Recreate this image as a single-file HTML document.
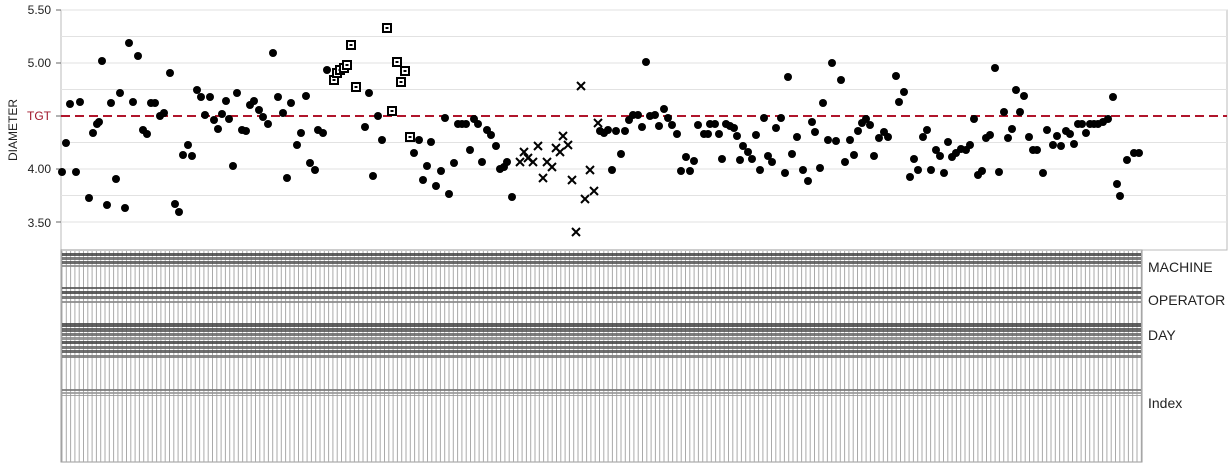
<!DOCTYPE html>
<html><head><meta charset="utf-8"><style>
html,body{margin:0;padding:0;background:#fff;}
svg{display:block;font-family:"Liberation Sans",sans-serif;}
</style></head><body>
<svg id="s" width="1228" height="466" xmlns="http://www.w3.org/2000/svg">
<rect x="61" y="10" width="1166" height="240" fill="#fff" stroke="#bbb"/>
<rect x="61" y="250" width="1081" height="212" fill="#fff" stroke="#999"/>
<g id="grid" stroke="#e2e2e2"></g>
<g font-size="12" fill="#222" text-anchor="end">
<text x="51" y="14">5.50</text><text x="51" y="67">5.00</text>
<text x="51" y="173">4.00</text><text x="51" y="227">3.50</text>
<text x="51" y="120" fill="#a0162a">TGT</text></g>
<g stroke="#666"><line x1="56" y1="10" x2="61" y2="10"/><line x1="56" y1="63" x2="61" y2="63"/><line x1="56" y1="116" x2="61" y2="116"/><line x1="56" y1="169" x2="61" y2="169"/><line x1="56" y1="222" x2="61" y2="222"/></g>
<text transform="translate(17,130) rotate(-90)" font-size="12" fill="#222" text-anchor="middle">DIAMETER</text>
<line x1="61" y1="116" x2="1227" y2="116" stroke="#b0152b" stroke-width="2" stroke-dasharray="9,5"/>
<g id="vl" stroke="#aaa" stroke-width="1"></g>
<g id="bands"></g>
<g id="pts"></g>
<g font-size="14" fill="#222">
<text x="1148" y="272">MACHINE</text><text x="1148" y="305">OPERATOR</text>
<text x="1148" y="340">DAY</text><text x="1148" y="408">Index</text></g>
</svg>
<script>
var ns="http://www.w3.org/2000/svg";
function el(t,a,p){var e=document.createElementNS(ns,t);for(var k in a)e.setAttribute(k,a[k]);document.getElementById(p).appendChild(e);return e;}
[36.5,89.5,142.5,195.5,63,169,222,10].forEach(function(y){el('line',{x1:61,x2:1227,y1:y,y2:y},'grid');});
for(var x=62;x<1142;x+=4.3){el('line',{x1:x.toFixed(1),x2:x.toFixed(1),y1:251,y2:462},'vl');}
var B=[[253,3,'#444'],[257,3,'#666'],[261,3,'#555'],[265,2,'#888'],
[287,2,'#555'],[291,3,'#444'],[296,3,'#666'],[301,2,'#888'],
[323,4,'#444'],[328,4,'#555'],[333,3,'#666'],[337,3,'#888'],[341,3,'#444'],[346,3,'#666'],[350,3,'#555'],[355,3,'#777'],
[389,2,'#777'],[392,2,'#999'],[395,1,'#999']];
B.forEach(function(b){el('rect',{x:62,y:b[0],width:1079,height:b[1],fill:b[2],opacity:0.85},'bands');});
var D=[[62,172],[66,143],[70,104],[76,172],[80,102],[89,198],[93,133],[97,124],[99,122],[102,61],[107,205],[111,103],[116,179],[120,93],[125,208],[129,43],[133,102],[138,56],[143,130],[147,134],[151,103],[155,103],[160,116],[164,113],[170,73],[175,204],[179,212],[183,155],[188,145],[192,156],[197,90],[201,97],[205,115],[210,97],[214,120],[218,129],[222,114],[226,101],[229,119],[233,166],[237,93],[242,130],[246,131],[250,105],[254,101],[259,110],[263,117],[268,124],[273,53],[278,97],[283,113],[287,178],[291,103],[297,145],[301,133],[306,96],[310,163],[315,170],[318,130],[323,133],[327,70],[365,127],[369,93],[373,176],[378,116],[382,140],[414,153],[419,140],[423,180],[427,166],[431,142],[436,186],[441,171],[445,118],[449,194],[454,163],[458,124],[462,124],[466,124],[470,150],[474,119],[478,124],[482,162],[487,130],[491,135],[496,146],[500,169],[504,167],[507,162],[512,197],[600,131],[604,133],[608,130],[612,170],[616,131],[621,154],[625,131],[629,120],[633,115],[638,115],[642,127],[646,62],[650,116],[655,115],[659,126],[664,109],[668,118],[672,125],[677,134],[681,171],[686,157],[690,171],[694,161],[698,125],[704,134],[708,134],[710,124],[715,124],[719,134],[722,159],[726,124],[730,126],[734,128],[737,136],[740,160],[743,146],[748,152],[752,159],[756,135],[760,170],[764,118],[768,156],[772,162],[776,128],[781,118],[785,173],[788,77],[792,154],[797,137],[803,170],[808,181],[812,122],[815,132],[820,168],[823,103],[828,140],[832,63],[836,141],[841,80],[845,162],[850,140],[854,155],[858,131],[862,123],[866,119],[870,125],[874,156],[879,138],[884,132],[888,137],[896,76],[899,102],[904,92],[910,177],[914,159],[918,170],[923,137],[927,130],[931,170],[936,150],[940,156],[944,173],[948,142],[952,157],[956,153],[961,149],[966,150],[970,145],[974,119],[978,175],[982,171],[986,138],[990,135],[995,68],[999,172],[1004,112],[1008,138],[1012,129],[1016,90],[1020,112],[1024,96],[1029,137],[1033,150],[1037,150],[1043,173],[1047,130],[1053,145],[1057,136],[1061,146],[1066,131],[1070,134],[1074,144],[1078,124],[1082,124],[1086,133],[1090,124],[1094,124],[1098,124],[1103,122],[1108,119],[1113,97],[1117,184],[1120,196],[1127,160],[1134,153],[1139,153]];
D.forEach(function(p){el('circle',{cx:p[0],cy:p[1],r:4,fill:'#000'},'pts');});
var S=[[334,80],[337,73],[340,70],[344,68],[347,65],[351,45],[356,87],[387,28],[392,111],[397,62],[401,82],[405,71],[410,137]];
S.forEach(function(p){el('rect',{x:p[0]-4,y:p[1]-4,width:8,height:8,fill:'#fff',stroke:'#000','stroke-width':2},'pts');el('rect',{x:p[0]-1.5,y:p[1]-1,width:3,height:2,fill:'#000'},'pts');});
var X=[[520,162],[524,152],[528,158],[533,162],[538,146],[543,178],[547,162],[552,167],[556,148],[560,152],[563,136],[568,145],[572,180],[576,232],[581,86],[585,199],[590,170],[594,191],[598,123]];
X.forEach(function(p){el('path',{d:'M'+(p[0]-4)+' '+(p[1]-4)+'l8 8M'+(p[0]+4)+' '+(p[1]-4)+'l-8 8',stroke:'#000','stroke-width':2},'pts');});
</script>
</body></html>
